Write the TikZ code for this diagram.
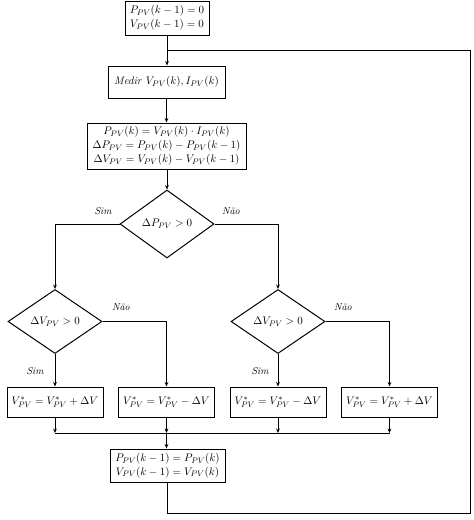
\documentclass[tikz,border=0pt]{standalone}
\usetikzlibrary{shapes.geometric,arrows.meta}
\begin{document}
\begin{tikzpicture}[x=1pt,y=-1pt, font=\fontsize{11}{13.8}\selectfont,
 box/.style={draw, line width=1pt, inner sep=2pt, align=center},
 dec/.style={draw, diamond, line width=1pt, inner sep=0pt, minimum width=94pt, minimum height=66pt},
 arr/.style={line width=0.85pt, -{Stealth[length=4.5pt,width=3.8pt]}},
 ln/.style={line width=0.85pt},
 lab/.style={font=\fontsize{10}{12}\selectfont\itshape}]
\useasboundingbox (0,0) rectangle (474,520);

\node[box, minimum width=84pt, minimum height=34pt] (init) at (167,18) {$P_{PV}(k-1)=0$\\$V_{PV}(k-1)=0$};
\node[box, minimum width=117pt, minimum height=32pt] (medir) at (166.5,82) {\textit{Medir} $V_{PV}(k), I_{PV}(k)$};
\node[box, minimum width=159pt, minimum height=46pt] (calc) at (166.5,146) {$P_{PV}(k)=V_{PV}(k)\cdot I_{PV}(k)$\\$\Delta P_{PV}=P_{PV}(k)-P_{PV}(k-1)$\\$\Delta V_{PV}=V_{PV}(k)-V_{PV}(k-1)$};
\node[dec, minimum height=68pt] (d1) at (167,224) {$\Delta P_{PV}>0$};
\node[dec, minimum height=64pt] (d2) at (55,321.5) {$\Delta V_{PV}>0$};
\node[dec, minimum height=64pt] (d3) at (278,321.5) {$\Delta V_{PV}>0$};
\node[box, minimum width=96pt, minimum height=30pt] (b1) at (55,402) {$V^{*}_{PV}=V^{*}_{PV}+\Delta V$};
\node[box, minimum width=96pt, minimum height=30pt] (b2) at (166.5,402) {$V^{*}_{PV}=V^{*}_{PV}-\Delta V$};
\node[box, minimum width=96pt, minimum height=30pt] (b3) at (278,402) {$V^{*}_{PV}=V^{*}_{PV}-\Delta V$};
\node[box, minimum width=96pt, minimum height=30pt] (b4) at (389.5,402) {$V^{*}_{PV}=V^{*}_{PV}+\Delta V$};
\node[box, minimum width=115pt, minimum height=33pt] (last) at (167.5,465.5) {$P_{PV}(k-1)=P_{PV}(k)$\\$V_{PV}(k-1)=V_{PV}(k)$};

\node[lab] (s1) at (103,211) {Sim};
\node[lab] (n1) at (231,211) {Não};
\node[lab] (n2) at (121,307) {Não};
\node[lab] (s2) at (35,371) {Sim};
\node[lab] (n3) at (343,307) {Não};
\node[lab] (s3) at (260,371) {Sim};

\coordinate (mline) at (0,433);
\coordinate (cr) at (470,513);
\coordinate (ctop) at (0,50);

\draw[arr] (init.south) -- (init.south |- medir.north);
\draw[arr] (medir.south) -- (medir.south |- calc.north);
\draw[arr] (calc.south) -- (calc.south -| d1.north) -- (d1.north);
\draw[arr] (d1.west) -| (d2.north);
\draw[arr] (d1.east) -| (d3.north);
\draw[arr] (d2.south) -- (b1.north);
\draw[arr] (d2.east) -| (b2.north);
\draw[arr] (d3.south) -- (b3.north);
\draw[arr] (d3.east) -| (b4.north);
\draw[arr] (b1.south) -- (b1.south |- mline);
\draw[arr] (b2.south) -- (b2.south |- mline);
\draw[arr] (b3.south) -- (b3.south |- mline);
\draw[arr] (b4.south) -- (b4.south |- mline);
\draw[ln] (b1.south |- mline) -- (b4.south |- mline);
\draw[arr] (b2.south |- mline) -- (b2.south |- last.north);
\draw[ln] (last.south) |- (cr) |- (init.south |- ctop);
\end{tikzpicture}
\end{document}
